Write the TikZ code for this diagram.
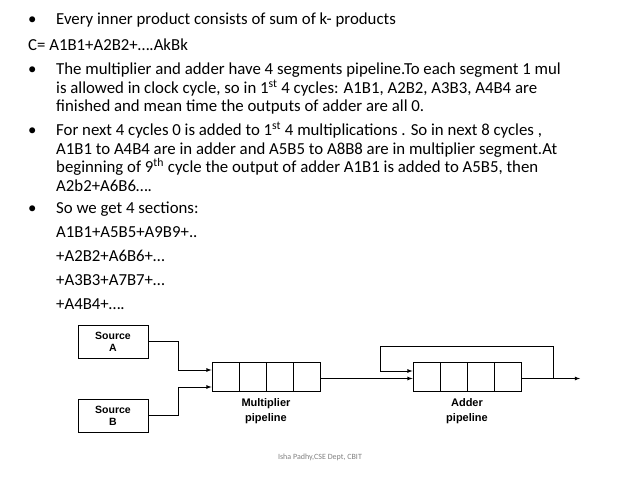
\documentclass[tikz,border=0pt]{standalone}
\usepackage{fontspec}
\setmainfont{Carlito}
\newfontfamily\diafont{Liberation Sans}
\begin{document}
\begin{tikzpicture}[x=1pt,y=-1pt,
  tx/.style={anchor=base west,inner sep=0,font=\fontsize{16.8}{17}\selectfont},
  bx/.style={draw,thick,minimum width=70,minimum height=33,inner sep=0,align=center,font=\diafont\bfseries\fontsize{10.5}{12}\selectfont},
  cell/.style={draw,thick,minimum width=27,minimum height=29,inner sep=0},
  lb/.style={align=center,font=\diafont\bfseries\fontsize{11}{15}\selectfont},
  ar/.style={thick,-latex}]
\useasboundingbox (0,0) rectangle (638,478);
\node[tx] (b1) at (28,25) {•};
\node[tx] (t1) at (56,25) {Every inner product consists of sum of k- products};
\node[tx] (t2) at (28,51) {C= A1B1+A2B2+….AkBk};
\node[tx] (b2) at (28,75) {•};
\node[tx] (t3) at (56,75) {The multiplier and adder have 4 segments pipeline.To each segment 1 mul};
\node[tx] (t4) at (56,93.5) {is allowed in clock cycle, so in 1\textsuperscript{st} 4 cycles: A1B1, A2B2, A3B3, A4B4 are};
\node[tx] (t5) at (56,112) {finished and mean time the outputs of adder are all 0.};
\node[tx] (b3) at (28,136) {•};
\node[tx] (t6) at (56,136) {For next 4 cycles 0 is added to 1\textsuperscript{st} 4 multiplications . So in next 8 cycles ,};
\node[tx] (t7) at (56,154.5) {A1B1 to A4B4 are in adder and A5B5 to A8B8 are in multiplier segment.At};
\node[tx] (t8) at (56,173) {beginning of 9\textsuperscript{th} cycle the output of adder A1B1 is added to A5B5, then};
\node[tx] (t9) at (56,191.5) {A2b2+A6B6….};
\node[tx] (b4) at (28,214) {•};
\node[tx] (t10) at (56,214) {So we get 4 sections:};
\node[tx] (t11) at (56,238) {A1B1+A5B5+A9B9+..};
\node[tx] (t12) at (56,262) {+A2B2+A6B6+…};
\node[tx] (t13) at (56,286) {+A3B3+A7B7+…};
\node[tx] (t14) at (56,310) {+A4B4+….};

\node[bx] (sa) at (113,341.5) {Source\\A};
\node[bx] (sb) at (113,415.5) {Source\\B};
\foreach \i in {1,2,3,4}{
  \node[cell] (m\i) at ({212+27*(\i-0.5)},376.5) {};
  \node[cell] (a\i) at ({413+27*(\i-0.5)},376.5) {};
}
\node[lb] (ml) at (266,411) {Multiplier\\pipeline};
\node[lb] (al) at (467,411) {Adder\\pipeline};
\coordinate (ka) at (178,341);
\coordinate (kb) at (178,415);
\draw[ar] (sa.east |- ka) -- (ka) |- ([yshift=6.5]m1.west);
\draw[ar] (sb.east |- kb) -- (kb) |- ([yshift=-10.5]m1.west);
\draw[ar] ([yshift=-2]m4.east) -- ([yshift=-2]a1.west);
\coordinate (fr) at (553,378.5);
\coordinate (ft) at (553,346);
\coordinate (fl) at (380,346);
\coordinate (out) at (580,378.5);
\draw[ar] ([yshift=-2]a4.east) -- (out);
\draw[ar] (fr) -- (ft) -- (fl) |- ([yshift=5.5]a1.west);
\node[font=\fontsize{8}{9}\selectfont,text=gray] (ft1) at (320,457) {Isha Padhy,CSE Dept, CBIT};
\end{tikzpicture}
\end{document}
